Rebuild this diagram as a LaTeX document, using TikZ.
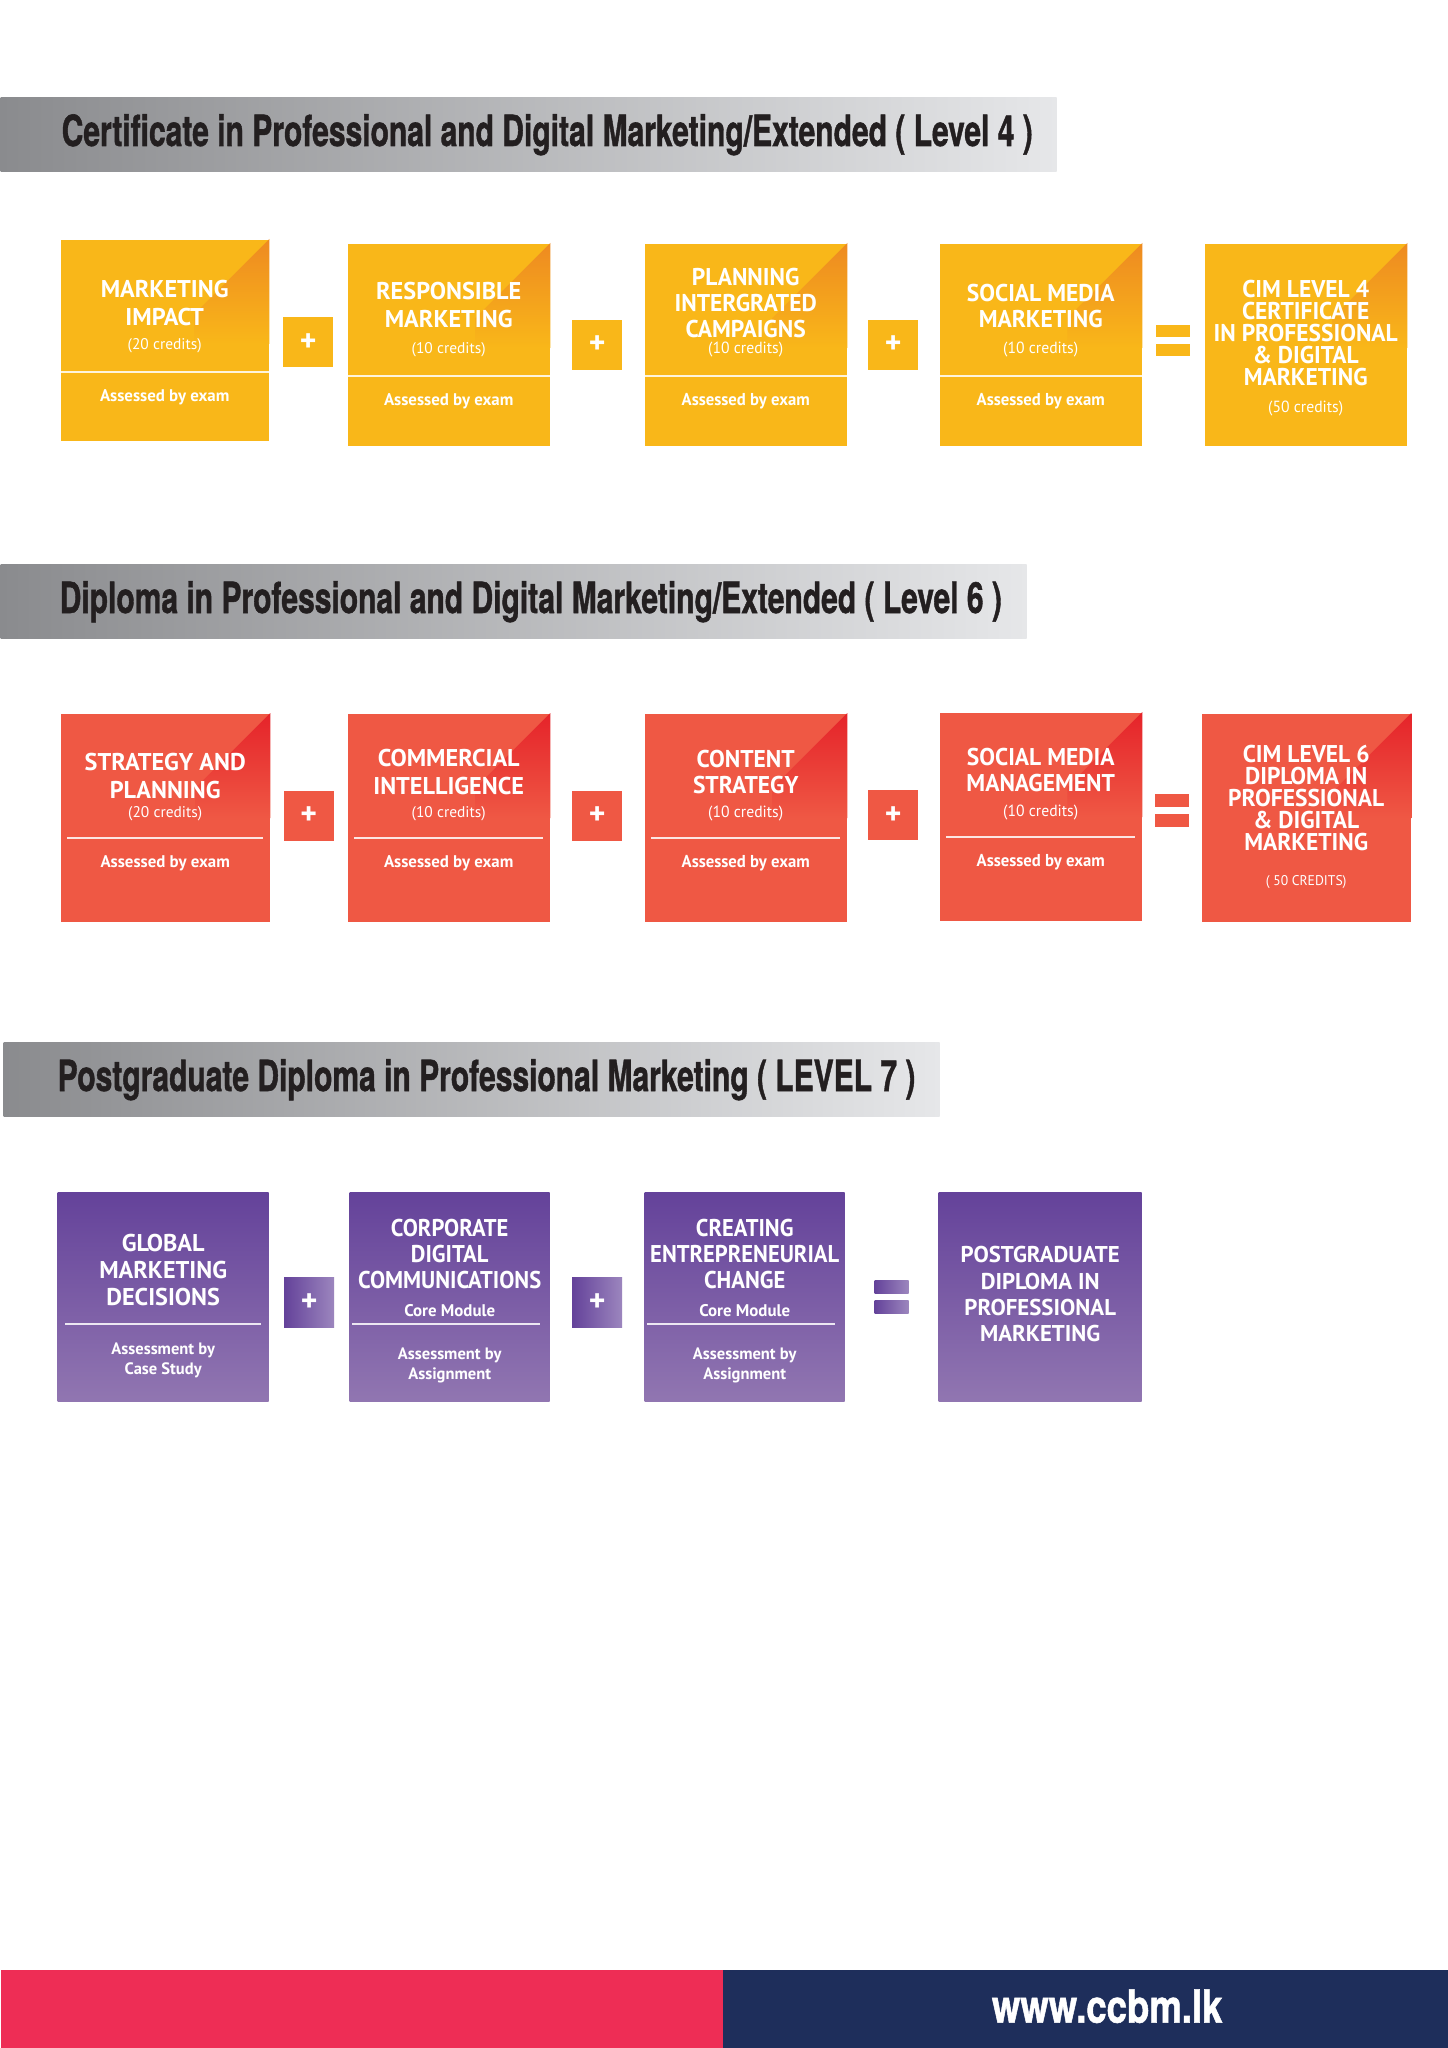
\documentclass[tikz,border=0pt]{standalone}
\usepackage{fontspec}
\setmainfont{PT Sans}
\newfontfamily\narrowfont[FakeStretch=0.97]{PT Sans}
\newfontfamily\semifont[FakeStretch=0.93]{PT Sans}
\newfontfamily\headfont[BoldFeatures={FakeBold=1.3}]{TeX Gyre Heros}
\usepackage{graphicx}
\usepackage{xcolor}
\usepackage{tikz}
\usetikzlibrary{calc,positioning}

\definecolor{cimyellow}{HTML}{F9B719}
\definecolor{yelcorner}{HTML}{EE8A21}
\definecolor{cimred}{HTML}{EF5844}
\definecolor{redcorner}{HTML}{E5232A}
\definecolor{purtop}{HTML}{64429A}
\definecolor{purmid}{HTML}{8A6DAD}
\definecolor{purbot}{HTML}{9176B1}
\definecolor{purlight}{HTML}{9C86BE}
\definecolor{headleft}{HTML}{8A8B8E}
\definecolor{headright}{HTML}{E6E7E9}
\definecolor{headtext}{HTML}{231F20}
\definecolor{footpink}{HTML}{EE2D55}
\definecolor{footnavy}{HTML}{1E2E5B}

\tikzset{
  modbox/.style={minimum width=20.2mm, minimum height=20.2mm, inner sep=0pt, anchor=north west},
  yelbox/.style={modbox, fill=cimyellow},
  redbox/.style={modbox, fill=cimred, minimum height=20.8mm},
  purbox/.style={modbox, top color=purtop, middle color=purmid, bottom color=purbot, minimum height=20.9mm},
  ttl/.style={text=white, align=center, inner sep=0pt, font=\fontsize{6.9}{7.7}\selectfont\bfseries},
  ttln/.style={text=white, align=center, inner sep=0pt, font=\fontsize{6.9}{7.5}\selectfont\narrowfont\bfseries},
  sumt/.style={text=white, align=center, inner sep=0pt, font=\fontsize{6.9}{6.3}\selectfont\narrowfont\bfseries},
  pgt/.style={text=white, align=center, inner sep=0pt, font=\fontsize{6.5}{7.4}\selectfont\bfseries},
  crd/.style={text=white, inner sep=0pt, font=\fontsize{4.4}{5}\selectfont},
  crdn/.style={text=white, inner sep=0pt, font=\fontsize{4.6}{5}\selectfont\narrowfont},
  asm/.style={text=white, inner sep=0pt, font=\fontsize{4.8}{5.6}\selectfont\bfseries},
  asmn/.style={text=white, inner sep=0pt, font=\fontsize{4.9}{5.6}\selectfont\narrowfont\bfseries},
  asmtwo/.style={text=white, align=center, inner sep=0pt, font=\fontsize{4.7}{5.7}\selectfont\bfseries},
  divline/.style={white, line width=0.4pt, opacity=0.85},
  opbox/.style={minimum size=5mm, inner sep=0pt, text=white, font=\fontsize{9}{9}\selectfont\bfseries},
  eqbar/.style={minimum width=3.4mm, minimum height=1.2mm, inner sep=0pt},
  headbar/.style={left color=headleft, right color=headright, minimum height=7.4mm, inner sep=0pt, anchor=north west},
  headtxt/.style={anchor=west, text=headtext, inner sep=0pt, font=\fontsize{12.2}{14}\selectfont\headfont\bfseries},
}

\begin{document}
\begin{tikzpicture}[x=0.1mm,y=-0.1mm]
\useasboundingbox (0,0) rectangle (1447,2048);
\fill[white] (0,0) rectangle (1447,2048);
%
% level 4
\node[headbar, minimum width=105.6mm] (h1) at (0,97) {};
\node[headtxt] (h1-t) at ($(h1.west)+(61,0)$) {\scalebox{0.7}[1]{Certificate in Professional and Digital Marketing/Extended ( Level 4 )}};
%
\node[yelbox, minimum width=20.8mm, minimum height=20.1mm] (mi) at (60,239) {};
\node[yelbox] (rm) at (347,243) {};
\node[yelbox] (pic) at (644,243) {};
\node[yelbox] (smm) at (939,243) {};
\node[yelbox] (cim4) at (1204,243) {};
\foreach \b in {mi,rm,pic,smm,cim4}{
  \path[top color=yelcorner, bottom color=cimyellow] (\b.north east) -- ++(-75,75) -- ++(0,30) -- ($(\b.north east)+(0,105)$) -- cycle;
}
%
\node[ttl] (mi-t) at ($(mi.north)+(0,64)$) {MARKETING\\IMPACT};
\node[ttl] (rm-t) at ($(rm.north)+(0,62)$) {RESPONSIBLE\\MARKETING};
\node[ttln] (pic-t) at ($(pic.north)+(0,60)$) {PLANNING\\INTERGRATED\\CAMPAIGNS};
\node[ttln] (smm-t) at ($(smm.north)+(0,63)$) {SOCIAL MEDIA\\MARKETING};
\node[sumt] (cim4-t) at ($(cim4.north)+(0,90)$) {CIM LEVEL 4\\CERTIFICATE\\IN PROFESSIONAL\\\& DIGITAL\\MARKETING};
\node[crdn] (cim4-c) at ($(cim4.north)+(0,166)$) {(50 credits)};
\foreach \b/\n/\s/\a in {mi/20/crd/asm, rm/10/crd/asm, pic/10/crdn/asmn, smm/10/crdn/asmn}{
  \node[\s] (\b-c) at ($(\b.north)+(0,107)$) {(\n\ credits)};
  \draw[divline] ($(\b.north west)+(0,133)$) -- ($(\b.north east)+(0,133)$);
  \node[\a] (\b-a) at ($(\b.north)+(0,158)$) {Assessed by exam};
}
%
\node[opbox, fill=cimyellow] (p1) at ($(mi.east)!0.5!(rm.west)$) {+};
\node[opbox, fill=cimyellow] (p2) at ($(rm.east)!0.5!(pic.west)$) {+};
\node[opbox, fill=cimyellow] (p3) at ($(pic.east)!0.5!(smm.west)$) {+};
\node[eqbar, fill=cimyellow] (e1a) at ($(smm.east)!0.5!(cim4.west)+(0,-14)$) {};
\node[eqbar, fill=cimyellow] (e1b) at ($(smm.east)!0.5!(cim4.west)+(0,5)$) {};
%
% level 6
\node[headbar, minimum width=102.6mm] (h2) at (0,564) {};
\node[headtxt] (h2-t) at ($(h2.west)+(59,0)$) {\scalebox{0.7}[1]{Diploma in Professional and Digital Marketing/Extended ( Level 6 )}};
%
\node[redbox, minimum width=20.9mm] (sp) at (60,713) {};
\node[redbox] (ci) at (347,713) {};
\node[redbox] (cs) at (644,713) {};
\node[redbox] (smg) at (939,712) {};
\node[redbox, minimum width=20.9mm] (cim6) at (1201,713) {};
\foreach \b in {sp,ci,cs,smg,cim6}{
  \path[top color=redcorner, bottom color=cimred] (\b.north east) -- ++(-75,75) -- ++(0,30) -- ($(\b.north east)+(0,105)$) -- cycle;
}
%
\node[ttl] (sp-t) at ($(sp.north)+(0,63)$) {STRATEGY AND\\PLANNING};
\node[ttl] (ci-t) at ($(ci.north)+(0,59)$) {COMMERCIAL\\INTELLIGENCE};
\node[ttln] (cs-t) at ($(cs.north)+(0,59)$) {CONTENT\\STRATEGY};
\node[ttln] (smg-t) at ($(smg.north)+(0,58)$) {SOCIAL MEDIA\\MANAGEMENT};
\node[sumt] (cim6-t) at ($(cim6.north)+(0,85)$) {CIM LEVEL 6\\DIPLOMA IN\\PROFESSIONAL\\\& DIGITAL\\MARKETING};
\node[crdn, font=\fontsize{4}{5}\selectfont\narrowfont] (cim6-c) at ($(cim6.north)+(0,169)$) {( 50 CREDITS)};
\foreach \b/\n/\s/\a in {sp/20/crd/asm, ci/10/crd/asm, cs/10/crdn/asmn, smg/10/crdn/asmn}{
  \node[\s] (\b-c) at ($(\b.north)+(0,101)$) {(\n\ credits)};
  \draw[divline] ($(\b.north west)+(7,125)$) -- ($(\b.north east)+(-7,125)$);
  \node[\a] (\b-a) at ($(\b.north)+(0,150)$) {Assessed by exam};
}
%
\node[opbox, fill=cimred] (p4) at ($(sp.east)!0.5!(ci.west)+(0,-2)$) {+};
\node[opbox, fill=cimred] (p5) at ($(ci.east)!0.5!(cs.west)+(0,-2)$) {+};
\node[opbox, fill=cimred] (p6) at ($(cs.east)!0.5!(smg.west)+(0,-2)$) {+};
\node[eqbar, fill=cimred, minimum height=1.3mm] (e2a) at ($(smg.east)!0.5!(cim6.west)+(0,-17)$) {};
\node[eqbar, fill=cimred, minimum height=1.3mm] (e2b) at ($(smg.east)!0.5!(cim6.west)+(0,3)$) {};
%
% level 7
\node[headbar, minimum width=93.6mm] (h3) at (3,1042) {};
\node[headtxt] (h3-t) at ($(h3.west)+(54,0)$) {\scalebox{0.7}[1]{Postgraduate Diploma in Professional Marketing ( LEVEL 7 )}};
%
\node[purbox, minimum width=21.1mm] (gmd) at (57,1192) {};
\node[purbox, minimum width=20mm] (cdc) at (349,1192) {};
\node[purbox, minimum width=20mm] (cec) at (644,1192) {};
\node[purbox, minimum width=20.3mm] (pgd) at (938,1192) {};
%
\node[ttl] (gmd-t) at ($(gmd.north)+(0,78)$) {GLOBAL\\MARKETING\\DECISIONS};
\draw[divline] ($(gmd.north west)+(8,132)$) -- ($(gmd.north east)+(-8,132)$);
\node[asmtwo] (gmd-a) at ($(gmd.north)+(0,168)$) {Assessment by\\Case Study};
\node[ttln, font=\fontsize{6.9}{7.3}\selectfont\semifont\bfseries] (cdc-t) at ($(cdc.north)+(0,62)$) {CORPORATE\\DIGITAL\\COMMUNICATIONS};
\node[ttln, font=\fontsize{6.9}{7.3}\selectfont\semifont\bfseries] (cec-t) at ($(cec.north)+(0,62)$) {CREATING\\ENTREPRENEURIAL\\CHANGE};
\foreach \b in {cdc,cec}{
  \node[asm] (\b-m) at ($(\b.north)+(0,119)$) {Core Module};
  \draw[divline] ($(\b.north west)+(3,132)$) -- ($(\b.north east)+(-10,132)$);
  \node[asmtwo] (\b-a) at ($(\b.north)+(0,173)$) {Assessment by\\Assignment};
}
\node[pgt] (pgd-t) at ($(pgd.north)+(0,102)$) {POSTGRADUATE\\DIPLOMA IN\\PROFESSIONAL\\MARKETING};
%
\node[opbox, left color=purtop, right color=purlight] (p7) at ($(gmd.east)!0.5!(cdc.west)+(0,5)$) {+};
\node[opbox, left color=purtop, right color=purlight] (p8) at ($(cdc.east)!0.5!(cec.west)+(0,5)$) {+};
\node[eqbar, left color=purtop, right color=purlight, minimum height=1.3mm] (e3a) at ($(cec.east)!0.5!(pgd.west)+(0,-10)$) {};
\node[eqbar, left color=purtop, right color=purlight, minimum height=1.3mm] (e3b) at ($(cec.east)!0.5!(pgd.west)+(0,10)$) {};
%
% footer
\node[fill=footpink, minimum width=72.2mm, minimum height=7.9mm, inner sep=0pt, anchor=north west] (fl) at (0,1969) {};
\node[fill=footnavy, minimum width=72.5mm, minimum height=7.9mm, inner sep=0pt, anchor=north west] (fr) at (722,1969) {};
\node[text=white, inner sep=0pt, font=\fontsize{13}{14}\selectfont\headfont\bfseries] (url) at ($(fr.center)+(22,-3)$) {\scalebox{0.8}[1]{www.ccbm.lk}};
%
\end{tikzpicture}
\end{document}
